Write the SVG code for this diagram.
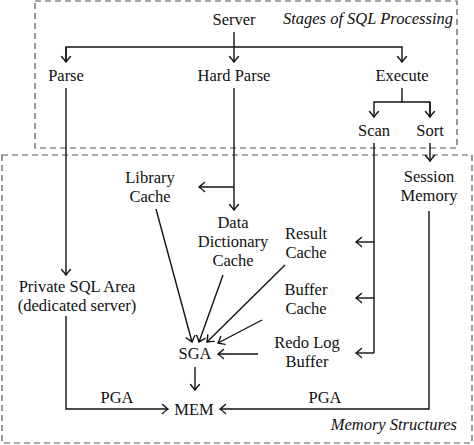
<svg xmlns="http://www.w3.org/2000/svg" width="474" height="445" viewBox="0 0 474 445">
<defs>
<style>
text{font-family:'Liberation Serif','DejaVu Serif',serif;font-size:16.5px;fill:#111;text-anchor:middle}
.it{font-style:italic;text-anchor:end}
.box{fill:none;stroke:#555;stroke-width:1.2;stroke-dasharray:6 4}
#conn path{fill:none;stroke:#111;stroke-width:1.4}
.a{marker-end:url(#ah)}
</style>
<marker id="ah" viewBox="-7 -6 9 12" refX="0" refY="0" markerWidth="9" markerHeight="12" markerUnits="userSpaceOnUse" orient="auto">
<path d="M-5.5,-4.5 Q-1.5,-1 0,0 Q-1.5,1 -5.5,4.5" fill="none" stroke="#111" stroke-width="1.4" stroke-linecap="round"/>
</marker>
</defs>
<rect class="box" x="35" y="1" width="422" height="147"/>
<rect class="box" x="2" y="155" width="470" height="288"/>
<text class="it" x="453" y="24">Stages of SQL Processing</text>
<text class="it" x="457" y="430">Memory Structures</text>
<g id="conn">
<path d="M234,32 V47"/>
<path d="M66,62 V47 H402 V62" class="a"/>
<path d="M66,47 V62" class="a"/>
<path d="M234,47 V62" class="a"/>
<path d="M66,88 V275" class="a"/>
<path d="M234,88 V210" class="a"/>
<path d="M234,187 H199" class="a"/>
<path d="M402,88 V102"/>
<path d="M430,117 V102 H374 V117" class="a"/>
<path d="M430,102 V117" class="a"/>
<path d="M430,143 V161" class="a"/>
<path d="M374,143 V353"/>
<path d="M374,242 H356" class="a"/>
<path d="M374,298 H356" class="a"/>
<path d="M374,353 H356" class="a"/>
<path d="M429,211 V409 H220" class="a"/>
<path d="M66,316 V409 H168" class="a"/>
<path d="M195,367 V390" class="a"/>
<path d="M156,209 L192,342" class="a"/>
<path d="M223,275 L199,342" class="a"/>
<path d="M285,265 L207,342" class="a"/>
<path d="M262,320 L218,343" class="a"/>
<path d="M258,354 L218,354" class="a"/>
</g>
<g id="server"><text x="234" y="25">Server</text></g>
<g id="parse"><text x="66" y="81">Parse</text></g>
<g id="hardparse"><text x="234" y="81">Hard Parse</text></g>
<g id="execute"><text x="402" y="81">Execute</text></g>
<g id="scan"><text x="374" y="136">Scan</text></g>
<g id="sort"><text x="430" y="136">Sort</text></g>
<g id="library"><text x="150" y="183">Library</text><text x="150" y="202">Cache</text></g>
<g id="datadict"><text x="233" y="228">Data</text><text x="233" y="247">Dictionary</text><text x="233" y="266">Cache</text></g>
<g id="session"><text x="429" y="182">Session</text><text x="429" y="201">Memory</text></g>
<g id="result"><text x="306" y="239">Result</text><text x="306" y="258">Cache</text></g>
<g id="buffer"><text x="306" y="295">Buffer</text><text x="306" y="314">Cache</text></g>
<g id="redo"><text x="307" y="348">Redo Log</text><text x="307" y="367">Buffer</text></g>
<g id="private"><text x="77" y="292">Private SQL Area</text><text x="77" y="311">(dedicated server)</text></g>
<g id="sga"><text x="195" y="359">SGA</text></g>
<g id="mem"><text x="194" y="415">MEM</text></g>
<g id="pga1"><text x="117" y="403">PGA</text></g>
<g id="pga2"><text x="325" y="403">PGA</text></g>
</svg>
